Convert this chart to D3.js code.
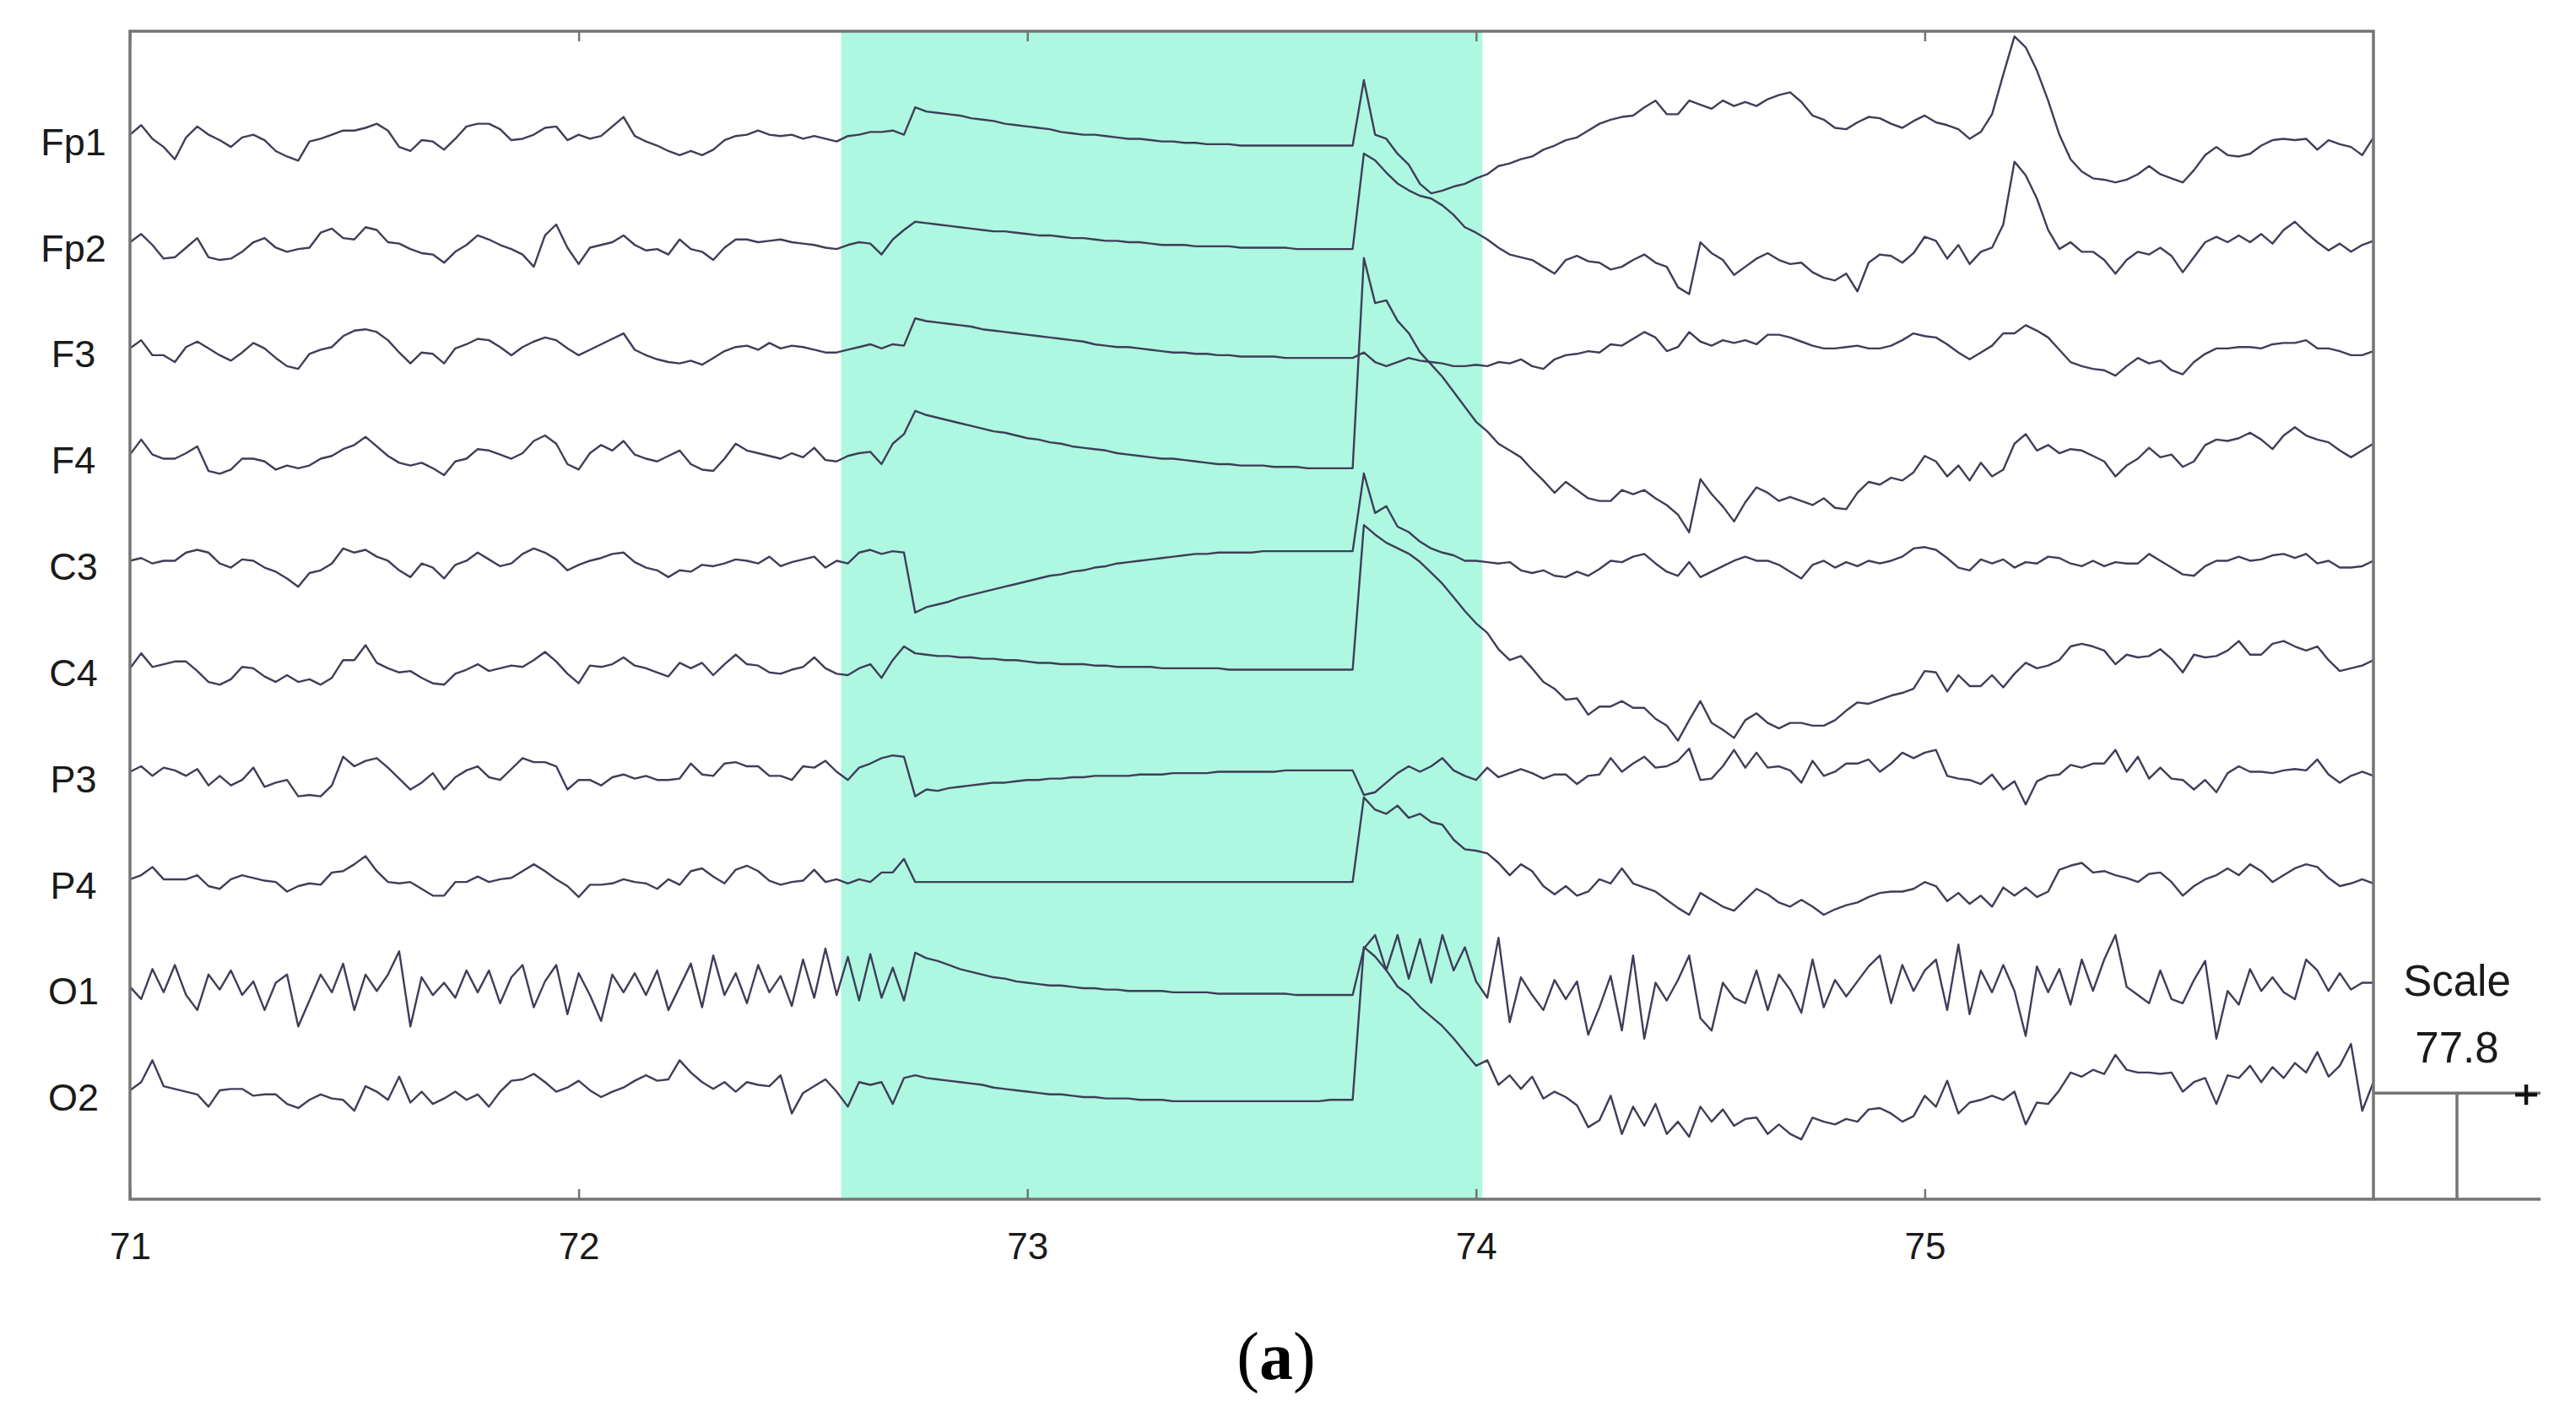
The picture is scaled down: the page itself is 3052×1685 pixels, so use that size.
<!DOCTYPE html>
<html><head><meta charset="utf-8">
<script src="https://cdn.jsdelivr.net/npm/d3@7"></script>
<style>body{margin:0;background:#fff}svg{display:block}</style>
</head><body>
<svg id="chart" width="3052" height="1685"></svg>
<script>
// ---------- data ----------
const channels = ["Fp1","Fp2","F3","F4","C3","C4","P3","P4","O1","O2"];
const tickValues = [71, 72, 73, 74, 75];
const timeStart = 71, timeEnd = 76, sampleStep = 0.025;   // seconds
const artifactWindow = [72.585, 74.014];                   // shaded segment (s)
const scaleValue = 77.8;                                   // µV per channel spacing
const scaleTitle = "Scale";
const panelLabel = "a";

// amplitudes in µV, one sample every 0.025 s from 71.000 to 76.000 s
const fp1 = [2,9,-1,-7,-16,0,8,2,-2,-7,
 0,2,-2,-10,-14,-17,-3,-1,2,5,
 5,7,10,5,-7,-10,-2,-3,-9,-1,
 8,10,10,6,-2,-1,2,7,8,-2,
 2,-1,1,8,15,1,-3,-6,-10,-13,
 -10,-13,-9,-2,1,2,5,2,1,2,
 -1,1,-1,-3,1,2,4,4,5,2,
 22,19,18,17,16,14,13,12,10,9,
 8,7,6,4,3,2,2,1,0,-1,
 -1,-2,-3,-3,-4,-4,-5,-5,-5,-6,
 -6,-6,-6,-6,-6,-6,-6,-6,-6,-6,
 42,2,-1,-12,-20,-34,-41,-39,-36,-34,
 -30,-27,-21,-19,-16,-14,-9,-6,-2,0,
 5,10,13,15,16,22,27,17,17,27,
 24,21,27,23,26,23,28,31,33,26,
 16,13,7,6,11,15,14,10,7,12,
 16,11,9,6,-1,4,17,46,74,66,
 49,27,2,-16,-25,-30,-31,-33,-31,-27,
 -21,-27,-30,-33,-24,-13,-7,-13,-14,-12,
 -6,-2,-1,-2,-1,-9,-2,-5,-7,-13,
 0];
const fp2 = [1,7,-1,-11,-10,-3,4,-10,-12,-11,
 -6,1,4,-3,-6,-4,-3,8,11,4,
 3,12,10,1,0,-4,-7,-8,-14,-6,
 -1,6,3,-1,-4,-8,-17,6,14,-3,
 -15,-3,-1,1,6,-1,-5,-4,-8,3,
 -4,-6,-12,-3,3,3,1,2,3,1,
 0,-1,-3,-4,-1,1,0,-8,3,10,
 16,15,14,13,12,11,10,9,9,8,
 7,6,6,5,4,4,3,2,2,1,
 1,0,-1,-1,-1,-2,-2,-2,-2,-3,
 -3,-3,-3,-3,-4,-4,-4,-4,-4,-4,
 66,61,52,44,39,35,33,28,21,12,
 8,3,-3,-8,-10,-12,-17,-22,-12,-9,
 -13,-14,-19,-17,-12,-8,-14,-17,-32,-37,
 1,-7,-12,-23,-17,-11,-7,-12,-15,-14,
 -21,-25,-27,-22,-35,-14,-8,-9,-14,-7,
 5,2,-11,-1,-15,-6,-3,14,60,50,
 33,10,-4,1,-6,-6,-12,-22,-12,-6,
 -8,-3,-9,-21,-10,1,5,1,6,1,
 7,0,10,16,8,1,-5,0,-6,-1,
 2];
const f3 = [1,7,-4,-4,-9,2,6,1,-4,-8,
 -2,5,1,-6,-12,-14,-3,0,2,10,
 14,15,13,7,-2,-10,-2,-3,-10,1,
 4,8,7,2,-4,2,6,9,7,1,
 -4,0,4,8,12,0,-4,-7,-9,-10,
 -8,-11,-6,-1,2,3,0,5,1,3,
 2,0,-2,-2,0,2,4,1,4,3,
 23,21,20,19,18,17,15,14,13,12,
 11,10,9,8,7,6,4,3,2,2,
 1,0,-1,-2,-2,-3,-3,-4,-4,-5,
 -5,-5,-5,-6,-6,-6,-6,-6,-6,-6,
 -2,-9,-12,-9,-6,-8,-9,-10,-12,-12,
 -11,-12,-9,-10,-7,-12,-14,-7,-4,-3,
 -1,-2,4,3,8,13,9,-1,2,13,
 6,3,7,5,7,4,11,11,9,6,
 3,1,1,2,3,1,1,3,7,12,
 10,9,4,-2,-7,-2,3,12,12,18,
 14,9,0,-9,-12,-14,-15,-19,-12,-6,
 -10,-8,-15,-18,-9,-3,1,1,2,2,
 1,4,5,5,7,1,1,-1,-4,-4,
 -1];
const f4 = [1,12,1,-2,-2,2,7,-11,-13,-10,
 -2,-2,-4,-10,-7,-9,-7,-2,0,5,
 8,14,7,0,-5,-7,-5,-9,-14,-4,
 -2,5,4,1,-2,2,11,15,9,-6,
 -10,2,8,4,11,1,-2,-4,0,4,
 -6,-10,-11,-2,9,4,2,0,-2,2,
 -1,6,-3,-4,0,2,3,-6,9,16,
 33,30,28,26,24,22,20,18,17,15,
 13,12,10,9,7,6,5,4,2,1,
 0,-1,-2,-2,-3,-4,-5,-6,-6,-7,
 -7,-7,-8,-8,-8,-9,-9,-9,-9,-9,
 145,112,114,99,90,76,67,58,47,36,
 25,18,9,4,-1,-10,-18,-27,-19,-25,
 -31,-33,-33,-25,-28,-25,-31,-36,-43,-56,
 -17,-28,-37,-48,-34,-23,-27,-33,-30,-33,
 -36,-31,-38,-39,-27,-19,-21,-16,-18,-12,
 0,-4,-15,-7,-18,-5,-15,-10,9,16,
 4,8,2,5,4,0,-4,-15,-7,-2,
 6,-1,1,-8,-4,8,12,11,13,17,
 12,5,15,21,15,12,10,4,-1,4,
 9];
const c3 = [1,3,-1,1,1,7,9,7,-1,-4,
 2,1,-4,-7,-12,-18,-8,-6,-1,10,
 7,9,4,1,-6,-11,-1,-4,-12,-2,
 1,7,2,-3,-1,6,10,7,2,-6,
 -2,1,3,6,7,0,-4,-6,-11,-6,
 -7,-2,-3,-1,2,1,-1,4,-3,0,
 2,4,-4,1,-1,7,9,6,8,7,
 -37,-33,-31,-29,-26,-24,-22,-20,-18,-16,
 -14,-12,-10,-9,-7,-6,-4,-3,-1,0,
 1,2,3,4,5,6,6,7,7,7,
 7,8,8,8,8,8,8,8,8,8,
 65,36,41,26,22,15,10,7,5,1,
 1,0,-1,0,-6,-8,-6,-10,-11,-7,
 -10,-5,1,0,4,6,-1,-7,-10,0,
 -11,-7,-3,1,4,1,1,-2,-7,-12,
 -2,1,-4,0,-3,1,-1,1,4,10,
 11,9,3,-4,-6,2,-1,2,-4,0,
 -1,4,3,-1,-3,1,-3,0,-1,-1,
 6,1,-4,-9,-10,-3,1,1,4,1,
 2,5,6,3,6,-1,1,-4,-4,-3,
 1];
const c4 = [0,11,1,3,5,5,-2,-10,-12,-8,
 1,0,-6,-10,-5,-10,-8,-12,-7,6,
 6,17,4,0,-3,-2,-7,-11,-12,-4,
 -1,3,-2,0,2,1,6,12,5,-4,
 -11,2,1,3,8,2,0,-3,-6,4,
 0,4,-5,3,10,3,2,-3,-4,-1,
 1,8,0,-4,-5,0,3,-7,6,16,
 11,10,9,9,8,8,7,7,6,6,
 5,4,4,3,3,3,2,2,1,1,
 1,1,0,0,0,0,0,0,-1,-1,
 -1,-1,-1,-1,-1,-1,-1,-1,-1,-1,
 105,98,92,88,84,78,70,62,52,42,
 33,26,14,6,9,0,-10,-15,-23,-22,
 -34,-28,-28,-24,-29,-29,-37,-42,-53,-38,
 -24,-40,-45,-51,-38,-33,-40,-44,-40,-40,
 -42,-42,-38,-31,-25,-26,-23,-20,-18,-15,
 -2,-3,-17,-5,-13,-13,-5,-14,-4,4,
 0,2,6,16,18,16,13,3,10,8,
 9,14,7,-3,10,8,9,13,20,10,
 10,18,20,16,13,16,6,-2,0,2,
 6];
const p3 = [2,6,-1,5,3,-1,4,-8,-1,-8,
 -4,5,-9,-6,-4,-16,-15,-16,-8,13,
 6,10,12,5,-3,-11,-6,1,-11,-2,
 3,6,-2,-4,4,12,9,9,6,-11,
 -4,-4,-8,-2,0,-3,-1,-4,-4,-3,
 8,0,-1,8,9,6,6,-1,-1,-4,
 6,5,10,2,-4,5,8,12,14,13,
 -16,-11,-12,-10,-9,-8,-7,-6,-6,-5,
 -4,-4,-3,-3,-2,-2,-1,-1,-1,-1,
 0,0,0,1,1,1,1,2,2,2,
 2,2,2,3,3,3,3,3,3,3,
 -15,-13,-6,1,6,2,6,12,3,-1,
 -4,5,-2,1,4,1,-3,0,0,-7,
 -1,0,12,2,8,13,5,6,10,19,
 -4,-3,6,18,5,16,5,6,3,-6,
 10,-1,2,8,8,11,2,8,16,12,
 16,18,-1,-3,-4,-7,0,-11,-5,-22,
 -5,-1,0,7,5,8,8,18,2,13,
 -3,5,-3,-4,-11,-4,-13,1,6,2,
 2,1,3,4,3,11,0,-6,-1,2,
 -1];
const p4 = [1,4,10,1,1,1,4,-4,-6,1,
 4,2,0,-1,-8,-4,-2,-3,6,7,
 12,18,7,-1,-2,-1,-6,-11,-11,-1,
 -1,3,-1,1,2,7,12,7,1,-4,
 -12,-3,-3,-2,1,-1,-2,-6,1,-3,
 7,9,3,-2,8,11,7,0,-3,-1,
 0,8,-1,1,-2,1,-1,6,6,16,
 -1,-1,-1,-1,-1,-1,-1,-1,-1,-1,
 -1,-1,-1,-1,-1,-1,-1,-1,-1,-1,
 -1,-1,-1,-1,-1,-1,-1,-1,-1,-1,
 -1,-1,-1,-1,-1,-1,-1,-1,-1,-1,
 61,52,49,55,46,49,43,41,30,23,
 22,20,13,4,12,7,-4,-10,-4,-11,
 -8,1,-2,9,-2,-5,-8,-14,-20,-25,
 -9,-14,-19,-22,-14,-6,-10,-16,-19,-14,
 -19,-25,-21,-18,-16,-12,-9,-8,-8,-6,
 -1,-4,-15,-9,-17,-11,-19,-5,-11,-5,
 -12,-8,8,11,13,6,7,4,2,-1,
 5,6,-1,-11,-4,1,4,9,4,12,
 7,-1,4,9,12,10,2,-4,-2,1,
 -2];
const o1 = [0,-9,13,-4,16,-6,-17,9,-2,12,
 -6,4,-17,3,9,-29,-10,9,-4,17,
 -17,9,-3,9,26,-29,7,-6,3,-8,
 12,-4,12,-12,7,16,-15,4,16,-20,
 10,-6,-25,9,-4,10,-6,12,-17,0,
 17,-15,23,-6,10,-12,16,-4,8,-14,
 20,-8,28,-6,22,-10,24,-8,14,-10,
 25,21,19,16,13,11,9,7,6,4,
 3,2,1,1,0,-1,-1,-2,-2,-3,
 -3,-3,-3,-4,-4,-4,-4,-5,-5,-5,
 -5,-5,-5,-5,-6,-6,-6,-6,-6,-6,
 28,38,12,38,6,35,3,38,12,29,
 4,-8,36,-26,7,-6,-17,5,-9,4,
 -35,-15,8,-32,23,-38,3,-10,5,23,
 -23,-32,3,-8,-12,12,-17,9,-2,-19,
 20,-15,5,-7,4,15,23,-12,16,-3,
 12,20,-17,31,-20,12,-4,16,-3,-36,
 15,-4,13,-13,20,-3,20,38,0,-6,
 -12,12,-9,-12,5,19,-38,-3,-13,13,
 -3,7,-4,-9,20,12,-3,10,-2,3,
 3];
const o2 = [2,8,24,5,3,1,-1,-10,2,3,
 3,-2,-1,-1,-8,-11,-5,-1,-4,-5,
 -13,5,1,-5,12,-7,1,-8,-4,1,
 -5,-1,-10,1,9,10,14,8,1,4,
 9,2,-3,1,4,9,13,9,10,24,
 15,8,3,8,1,8,6,5,13,-15,
 0,5,10,1,-10,8,6,8,-8,11,
 13,11,10,9,8,7,6,4,3,2,
 1,0,-1,-1,-2,-3,-3,-4,-4,-4,
 -5,-5,-5,-6,-6,-6,-6,-6,-6,-6,
 -6,-6,-6,-6,-6,-6,-6,-5,-5,-5,
 107,100,90,78,72,63,56,49,40,30,
 20,24,6,13,3,12,-4,1,-3,-9,
 -25,-20,-2,-30,-10,-24,-8,-30,-21,-32,
 -10,-21,-12,-24,-19,-18,-30,-23,-30,-34,
 -18,-21,-23,-19,-21,-12,-11,-15,-21,-17,
 -2,-10,9,-15,-7,-5,-2,-5,1,-23,
 -7,-8,2,15,12,17,14,28,17,15,
 15,14,15,1,8,11,-8,13,11,20,
 8,19,11,22,15,30,12,20,36,-13,
 8];
const seriesByChannel = {Fp1: fp1, Fp2: fp2, F3: f3, F4: f4, C3: c3, C4: c4, P3: p3, P4: p4, O1: o1, O2: o2};

// ---------- layout ----------
const plot = {left: 154, right: 2812, top: 37, bottom: 1421};
const scaleBoxWidth = 198;
const frameColor = "#747474";
const traceColor = "#3e3e58";
const shadeColor = "#aef7e1";
const sansFont = "'Liberation Sans', Arial, Helvetica, sans-serif";

const svg = d3.select("#chart");
svg.append("rect").attr("width", 3052).attr("height", 1685).attr("fill", "#fff");

const x = d3.scaleLinear().domain([timeStart, timeEnd]).range([plot.left, plot.right]);
const step = (plot.bottom - plot.top) / (channels.length + 1);
const yChannel = d3.scalePoint().domain(channels).range([plot.top + step, plot.bottom - step]);
const amp = d3.scaleLinear().domain([0, scaleValue]).range([0, step]);

// shaded artifact window
svg.append("rect")
  .attr("x", x(artifactWindow[0])).attr("y", plot.top)
  .attr("width", x(artifactWindow[1]) - x(artifactWindow[0]))
  .attr("height", plot.bottom - plot.top)
  .attr("fill", shadeColor);

// traces
const traces = svg.append("g");
channels.forEach(ch => {
  const base = yChannel(ch);
  const line = d3.line()
    .x((v, i) => x(timeStart + i * sampleStep))
    .y(v => base - amp(v));
  traces.append("path")
    .datum(seriesByChannel[ch])
    .attr("d", line)
    .attr("fill", "none")
    .attr("stroke", traceColor)
    .attr("stroke-width", 2.4)
    .attr("stroke-linejoin", "round");
});

// axes (inward ticks, bottom with labels, top without)
const bottomAxis = d3.axisBottom(x).tickValues(tickValues).tickSize(-12).tickPadding(40).tickFormat(d3.format("d"));
const gB = svg.append("g").attr("transform", `translate(0,${plot.bottom})`).call(bottomAxis);
gB.select(".domain").remove();
gB.selectAll(".tick line").attr("stroke", frameColor).attr("stroke-width", 2.5);
gB.selectAll(".tick text").attr("font-family", sansFont).attr("font-size", 44).attr("fill", "#1a1a1a");

const topAxis = d3.axisTop(x).tickValues(tickValues).tickSize(-12).tickFormat("");
const gT = svg.append("g").attr("transform", `translate(0,${plot.top})`).call(topAxis);
gT.select(".domain").remove();
gT.selectAll(".tick line").attr("stroke", frameColor).attr("stroke-width", 2.5);

// frame
svg.append("rect")
  .attr("x", plot.left).attr("y", plot.top)
  .attr("width", plot.right - plot.left).attr("height", plot.bottom - plot.top)
  .attr("fill", "none").attr("stroke", frameColor).attr("stroke-width", 3.5);

// channel labels (centred in the left margin)
svg.append("g").selectAll("text").data(channels).join("text")
  .attr("x", 87)
  .attr("y", d => yChannel(d) + 21)
  .attr("text-anchor", "middle")
  .attr("font-family", sansFont).attr("font-size", 45).attr("fill", "#1a1a1a")
  .text(d => d);

// scale indicator
const yRef = yChannel(channels[channels.length - 1]);
const scaleRight = plot.right + scaleBoxWidth;
const scaleMid = plot.right + scaleBoxWidth / 2;
const sg = svg.append("g").attr("stroke", frameColor).attr("stroke-width", 3.5);
sg.append("line").attr("x1", plot.right).attr("x2", scaleRight).attr("y1", yRef).attr("y2", yRef);
sg.append("line").attr("x1", plot.right).attr("x2", scaleRight).attr("y1", plot.bottom).attr("y2", plot.bottom);
sg.append("line").attr("x1", scaleMid).attr("x2", scaleMid).attr("y1", yRef).attr("y2", yRef + amp(scaleValue));
const plus = svg.append("g").attr("stroke", "#111").attr("stroke-width", 4.5);
plus.append("line").attr("x1", scaleRight - 30).attr("x2", scaleRight - 4).attr("y1", yRef + 2).attr("y2", yRef + 2);
plus.append("line").attr("x1", scaleRight - 17).attr("x2", scaleRight - 17).attr("y1", yRef - 10).attr("y2", yRef + 14);

svg.append("text").attr("x", scaleMid).attr("y", 1180)
  .attr("text-anchor", "middle").attr("font-family", sansFont).attr("font-size", 51).attr("fill", "#1a1a1a")
  .text(scaleTitle);
svg.append("text").attr("x", scaleMid).attr("y", 1259)
  .attr("text-anchor", "middle").attr("font-family", sansFont).attr("font-size", 51).attr("fill", "#1a1a1a")
  .text(d3.format(".1f")(scaleValue));

// panel label "(a)"
const pl = svg.append("text").attr("x", 1512).attr("y", 1634)
  .attr("text-anchor", "middle")
  .attr("font-family", "'Liberation Serif', 'Times New Roman', serif")
  .attr("font-size", 80).attr("fill", "#000");
pl.append("tspan").text("(");
pl.append("tspan").attr("font-weight", "bold").text(panelLabel);
pl.append("tspan").text(")");
</script>
</body></html>
